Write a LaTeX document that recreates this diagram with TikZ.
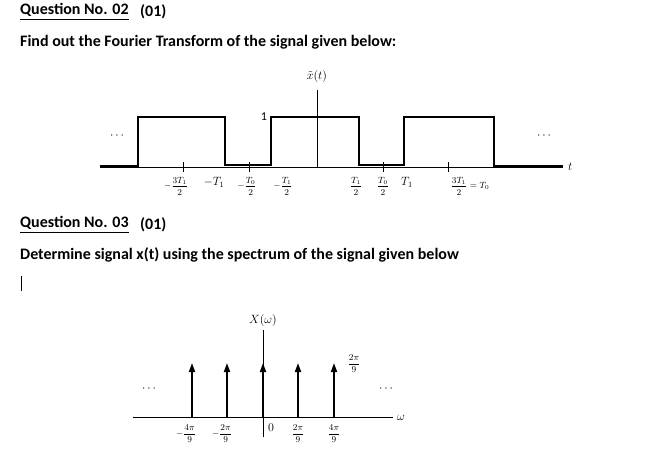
\documentclass[tikz,border=0pt]{standalone}
\usepackage{fontspec}
\setmainfont{Carlito}
\usepackage{amsmath}
\usetikzlibrary{arrows.meta}
\begin{document}
\begin{tikzpicture}[x=1pt,y=-1pt,
  hd/.style={anchor=west,font=\bfseries\fontsize{16}{18}\selectfont,inner sep=0pt},
  lab/.style={font=\fontsize{12}{13}\selectfont,inner sep=0pt},
  fr/.style={font=\fontsize{9}{10}\selectfont,inner sep=0pt},
  sig/.style={line width=1.4pt},
  ax/.style={line width=0.7pt},
  imp/.style={line width=1.8pt,-{Triangle[length=9pt,width=6pt]}}]
\useasboundingbox (0,0) rectangle (663,460);
% headers
\node[hd] (q2) at (20,12) {\underline{Question No. 02}};
\node[hd] (m2) at (140,12) {(01)};
\node[hd] (t2) at (20,42) {Find out the Fourier Transform of the signal given below:};
\node[hd] (q3) at (20,225) {\underline{Question No. 03}};
\node[hd] (m3) at (140,225) {(01)};
\node[hd] (t3) at (20,255) {Determine signal x(t) using the spectrum of the signal given below};
\draw[line width=0.7pt] (21,276) -- (21,291);
% top plot
\coordinate (a0) at (100,167); \coordinate (a1) at (563,167);
\draw[ax] (a0) -- (a1);
\node[lab,anchor=west] (tl) at (568,167) {$t$};
\coordinate (v0) at (317,90); \coordinate (v1) at (317,167);
\draw[ax] (v0) -- (v1);
\node[lab] (xl) at (317,76) {$\tilde{x}(t)$};
\draw[sig] (100,166) -- (138,166) -- (138,117) -- (225,117) -- (225,165) -- (271,165) -- (271,117) -- (359,117) -- (359,165) -- (404,165) -- (404,117) -- (494,117) -- (494,166) -- (563,166);
\node[lab] (one) at (264,117) {1};
\node[lab] (dl) at (118,136) {$\cdots$};
\node[lab] (dr) at (545,136) {$\cdots$};
\foreach \x in {183,249,383,448} \draw[ax] (\x,162) -- (\x,172);
\node[fr] at (176,186) {$-\dfrac{3T_1}{2}$};
\node[lab] at (214,182) {$-T_1$};
\node[fr] at (247,186) {$-\dfrac{T_0}{2}$};
\node[fr] at (283,186) {$-\dfrac{T_1}{2}$};
\node[fr] at (356,186) {$\dfrac{T_1}{2}$};
\node[fr] at (383,186) {$\dfrac{T_0}{2}$};
\node[lab] at (407,182) {$T_1$};
\node[fr] at (470,186) {$\dfrac{3T_1}{2}=T_0$};
% bottom plot
\coordinate (b0) at (133,417); \coordinate (b1) at (393,417);
\draw[ax] (b0) -- (b1);
\node[lab,anchor=west] (wl) at (397,418) {$\omega$};
\draw[ax] (263,330) -- (263,437);
\node[lab] (Xl) at (263,320) {$X(\omega)$};
\foreach \x in {192,227,263,298,334} \draw[imp] (\x,417) -- (\x,363);
\node[fr] at (354,364) {$\dfrac{2\pi}{9}$};
\node[lab] at (150,389) {$\cdots$};
\node[lab] at (387,389) {$\cdots$};
\node[fr] at (186,434) {$-\dfrac{4\pi}{9}$};
\node[fr] at (222,434) {$-\dfrac{2\pi}{9}$};
\node[lab] at (271,428) {$0$};
\node[fr] at (298,434) {$\dfrac{2\pi}{9}$};
\node[fr] at (334,434) {$\dfrac{4\pi}{9}$};
\end{tikzpicture}
\end{document}
